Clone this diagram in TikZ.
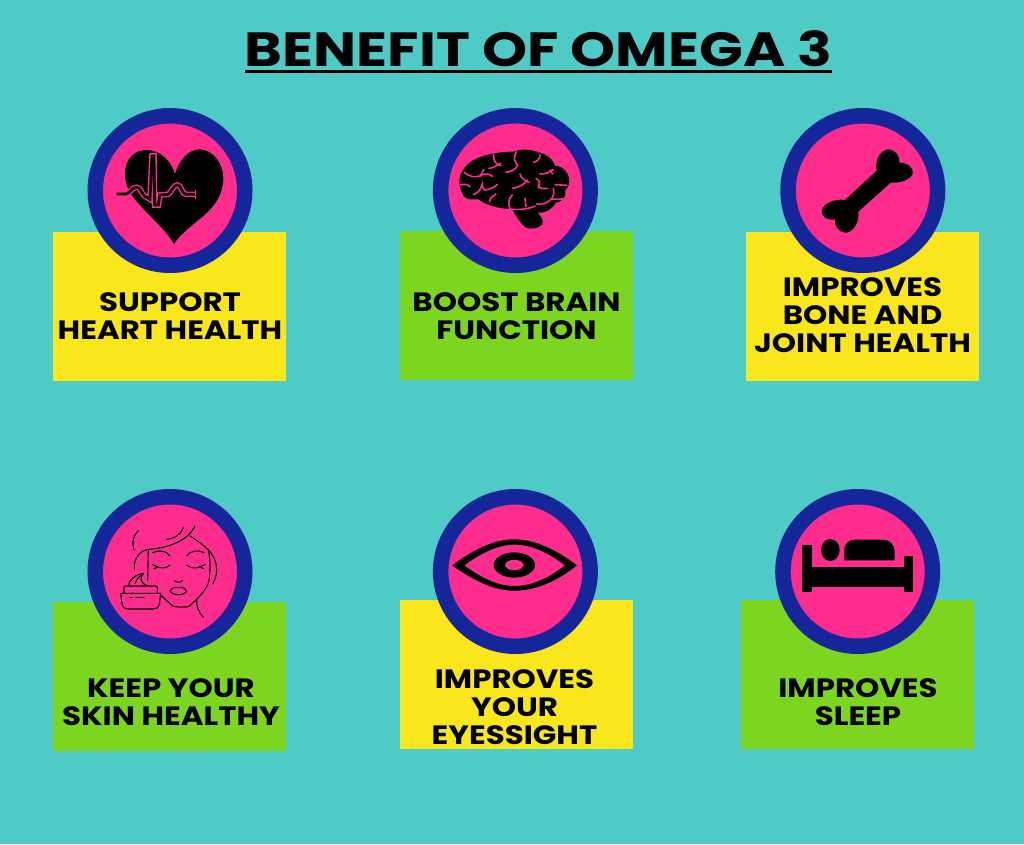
\documentclass[tikz,border=0pt]{standalone}
\usepackage{fontspec}
\setmainfont{Poppins}[BoldFont={Poppins Bold},BoldFeatures={FakeStretch=1.195}]
\newfontfamily\labfont{Poppins Bold}[FakeStretch=1.165]
\definecolor{bgc}{HTML}{4ECBC6}
\definecolor{pinkc}{HTML}{FE2C8C}
\definecolor{bluec}{HTML}{15269B}
\definecolor{yelc}{HTML}{F9E71B}
\definecolor{grnc}{HTML}{7CD61F}
\tikzset{
 card/.style={rectangle,inner sep=0pt,minimum width=233pt,minimum height=149pt},
 ring/.style={circle,draw=bluec,fill=pinkc,line width=15.5pt,minimum size=149.5pt,inner sep=0pt},
 lab/.style={align=center,inner sep=0pt,font=\fontsize{26.5}{28}\selectfont\labfont},
 ttl/.style={inner sep=0pt,font=\fontsize{48}{50}\selectfont\bfseries},
 icon/.style={x=0.3333pt,y=-0.3333pt},
 wr/.style={draw=pinkc,line width=1.6pt,line cap=round},
 fc/.style={draw=black,line width=1.1pt,line cap=round,line join=round},
}
\begin{document}
\begin{tikzpicture}[x=1pt,y=-1pt]
\path[use as bounding box,fill=bgc] (0,0) rectangle (1024,844);
\node[ttl] (title) at (538.5,48.5) {BENEFIT OF OMEGA 3};
\draw[line width=3.5pt] (245,71.5) -- (832,71.5);
\node[card,fill=yelc] (c1) at (169.5,306.5) {};
\node[card,fill=grnc] (c2) at (516.5,305.5) {};
\node[card,fill=yelc] (c3) at (862.5,306) {};
\node[card,fill=grnc] (c4) at (169,676.5) {};
\node[card,fill=yelc] (c5) at (516.5,674.5) {};
\node[card,fill=grnc] (c6) at (857,674.5) {};
\node[ring] (r1) at (170,190.5) {};
\node[ring] (r2) at (515.4,190.5) {};
\node[ring] (r3) at (862.8,190.5) {};
\node[ring] (r4) at (170,571.5) {};
\node[ring] (r5) at (515.4,571.5) {};
\node[ring] (r6) at (857.7,571.5) {};
\node[lab] (l1) at (170,316.5) {SUPPORT\\HEART HEALTH};
\node[lab] (l2) at (516.5,316.5) {BOOST BRAIN\\FUNCTION};
\node[lab] (l3) at (862.5,315.5) {IMPROVES\\BONE AND\\JOINT HEALTH};
\node[lab] (l4) at (171,702.5) {KEEP YOUR\\SKIN HEALTHY};
\node[lab] (l5) at (514.5,707.5) {IMPROVES\\YOUR\\EYESSIGHT};
\node[lab] (l6) at (858,702.5) {IMPROVES\\SLEEP};
% heart
\begin{scope}[shift={(80,100)},icon]
\fill (282,432) .. controls (262,395) and (215,355) .. (180,315)
 .. controls (150,285) and (135,255) .. (135,222)
 .. controls (135,175) and (165,150) .. (198,150)
 .. controls (240,150) and (272,180) .. (285,222)
 .. controls (298,180) and (325,148) .. (360,148)
 .. controls (400,150) and (430,190) .. (430,235)
 .. controls (430,290) and (395,330) .. (355,360)
 .. controls (325,385) and (295,410) .. (282,432) -- cycle;
\def\ecg{(110,282) -- (138,282) .. controls (150,280) and (155,262) .. (170,262) .. controls (185,262) and (180,282) .. (200,292) -- (210,298) -- (216,168) -- (222,168) -- (224,315) -- (235,315) -- (240,285) -- (265,283) .. controls (275,275) and (280,255) .. (292,255) .. controls (305,255) and (305,283) .. (318,283) -- (345,283)}
\draw[pinkc,line width=5.6pt,line join=miter] \ecg;
\draw[black,line width=2.8pt,line join=miter] \ecg;
\fill[pinkc] (345,270) rectangle (349,296);
\end{scope}
% brain
\begin{scope}[shift={(425,100)},icon]
\fill (103,240) .. controls (105,215) and (125,190) .. (150,178)
 .. controls (175,165) and (215,155) .. (268,155)
 .. controls (285,145) and (320,148) .. (345,158)
 .. controls (370,165) and (385,180) .. (390,197)
 .. controls (415,198) and (433,220) .. (433,245)
 .. controls (430,262) and (425,268) .. (420,272)
 .. controls (425,295) and (410,305) .. (392,308)
 .. controls (380,330) and (360,340) .. (338,338)
 .. controls (350,350) and (358,365) .. (350,375)
 .. controls (340,385) and (320,388) .. (305,384)
 .. controls (290,375) and (270,345) .. (262,328)
 .. controls (225,325) and (190,320) .. (160,298)
 .. controls (130,300) and (115,295) .. (112,280)
 .. controls (105,265) and (102,255) .. (103,240) -- cycle;
\draw[wr] (205,162) .. controls (208,180) and (205,190) .. (228,197);
\draw[wr] (192,205) .. controls (205,205) and (215,195) .. (228,190);
\draw[wr] (275,155) .. controls (262,175) and (270,185) .. (278,197) .. controls (270,212) and (255,215) .. (242,217);
\draw[wr] (345,165) .. controls (345,178) and (335,185) .. (325,187);
\draw[wr] (118,217) .. controls (135,232) and (150,232) .. (165,228) .. controls (172,220) and (172,215) .. (176,208);
\draw[wr] (165,228) .. controls (180,218) and (195,222) .. (203,230);
\draw[wr] (105,255) .. controls (115,252) and (128,252) .. (135,260);
\draw[wr] (145,284) .. controls (165,275) and (165,270) .. (172,252) .. controls (172,262) and (175,270) .. (180,270) .. controls (195,268) and (210,262) .. (217,253);
\draw[wr] (193,305) .. controls (195,293) and (205,287) .. (213,282);
\draw[wr] (285,222) .. controls (288,235) and (298,240) .. (312,247);
\draw[wr] (263,265) .. controls (285,262) and (300,250) .. (308,240);
\draw[wr] (333,236) .. controls (345,240) and (345,250) .. (340,262) .. controls (350,265) and (358,268) .. (368,265);
\draw[wr] (345,222) .. controls (360,222) and (375,218) .. (385,208);
\draw[wr] (375,210) -- (383,222);
\draw[wr] (390,254) -- (425,256);
\draw[wr] (385,265) .. controls (388,282) and (385,290) .. (380,297) .. controls (395,298) and (405,298) .. (418,296);
\draw[wr] (380,297) .. controls (365,310) and (350,315) .. (335,312);
\draw[wr] (262,285) .. controls (250,295) and (248,315) .. (255,325);
\draw[wr] (255,327) .. controls (280,330) and (310,328) .. (330,318);
\draw[wr] (300,295) -- (303,320);
\end{scope}
% bone
\begin{scope}[shift={(770,100)},icon]
\fill (320,212) .. controls (312,170) and (340,147) .. (358,148)
 .. controls (378,150) and (390,170) .. (388,188)
 .. controls (415,188) and (432,205) .. (428,222)
 .. controls (420,240) and (390,250) .. (362,248)
 -- (265,335)
 .. controls (270,370) and (245,400) .. (225,398)
 .. controls (205,395) and (192,378) .. (195,358)
 .. controls (170,362) and (155,350) .. (155,333)
 .. controls (158,310) and (195,295) .. (225,300) -- cycle;
\end{scope}
% face
\begin{scope}[shift={(80,480)},icon]
\draw[fc] (175,152) .. controls (160,165) and (155,185) .. (162,210);
\draw[fc] (260,178) .. controls (285,175) and (303,163) .. (310,143);
\draw[fc] (163,268) .. controls (160,235) and (180,212) .. (205,208) .. controls (250,205) and (320,190) .. (345,138);
\draw[fc] (330,168) .. controls (350,180) and (370,195) .. (385,210) .. controls (392,240) and (392,280) .. (385,310) .. controls (375,335) and (345,365) .. (325,380) .. controls (310,382) and (290,382) .. (278,378) -- (243,346);
\draw[fc] (205,210) -- (203,300);
\draw[fc] (385,210) .. controls (410,235) and (420,275) .. (398,312);
\draw[fc] (350,358) .. controls (348,380) and (358,398) .. (370,412);
\draw[fc] (218,218) .. controls (235,208) and (260,212) .. (270,228);
\draw[fc] (320,228) .. controls (330,212) and (355,208) .. (372,218);
\draw[fc] (228,258) .. controls (240,266) and (258,266) .. (270,255);
\draw[fc] (320,255) .. controls (332,266) and (352,266) .. (365,258);
\draw[fc] (228,258) -- (218,254) (232,262) -- (222,266);
\draw[fc] (365,258) -- (375,254) (361,262) -- (371,266);
\draw[fc] (283,302) .. controls (288,308) and (302,308) .. (307,302);
\draw[fc] (270,333) .. controls (280,318) and (290,322) .. (295,323) .. controls (300,322) and (310,318) .. (320,333) .. controls (312,348) and (278,348) .. (270,333) -- cycle;
\draw[fc] (122,340) -- (242,340) -- (238,372) .. controls (236,382) and (230,387) .. (222,387) -- (142,387) .. controls (134,387) and (128,382) .. (126,372) -- cycle;
\draw[fc] (132,340) -- (132,322) .. controls (132,318) and (135,318) .. (138,318) -- (226,318) .. controls (230,318) and (232,320) .. (232,324) -- (232,340);
\draw[fc] (145,318) .. controls (148,298) and (165,285) .. (190,280) .. controls (178,295) and (180,310) .. (205,318);
\draw[fc] (165,310) .. controls (168,300) and (175,292) .. (185,285);
\draw[fc] (150,352) -- (158,352) (168,352) -- (192,352);
\end{scope}
% eye
\begin{scope}[shift={(425,480)},icon]
\fill[even odd rule] (82,256) .. controls (150,205) and (210,178) .. (268,178) .. controls (330,178) and (395,210) .. (456,256)
 .. controls (395,305) and (330,332) .. (268,332) .. controls (210,332) and (150,305) .. (82,256) -- cycle
 (118,256) .. controls (170,295) and (220,318) .. (268,318) .. controls (320,318) and (370,295) .. (420,256)
 .. controls (370,218) and (320,194) .. (268,194) .. controls (220,194) and (170,218) .. (118,256) -- cycle
 (268,255) ellipse [x radius=62, y radius=38]
 (268,255) ellipse [x radius=28, y radius=16];
\end{scope}
% bed
\begin{scope}[shift={(770,480)},icon]
\fill (97,195) rectangle (125,337);
\fill (125,260) rectangle (402,321);
\fill (402,227) rectangle (430,337);
\fill (181,210) ellipse [x radius=28, y radius=33];
\fill (223,241) -- (223,205) .. controls (225,190) and (238,179) .. (255,179) -- (340,179) .. controls (360,179) and (374,195) .. (374,215) -- (374,241) -- cycle;
\end{scope}
\end{tikzpicture}
\end{document}
